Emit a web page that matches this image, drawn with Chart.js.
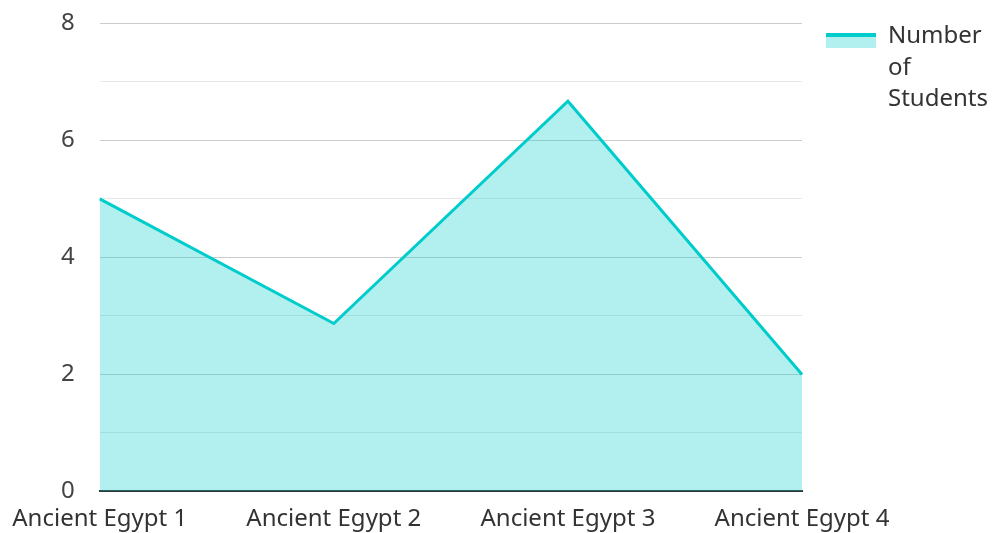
<!DOCTYPE html>
<html>
<head>
<meta charset="utf-8">
<script src="https://cdn.jsdelivr.net/npm/chart.js@4.4.1/dist/chart.umd.min.js"></script>
<style>
  html, body { margin: 0; padding: 0; background: #fff; }
  #wrap { width: 992px; height: 533px; position: relative; }
</style>
</head>
<body>
<div id="wrap"><canvas id="c"></canvas></div>
<script>
const categories = ['Ancient Egypt 1', 'Ancient Egypt 2', 'Ancient Egypt 3', 'Ancient Egypt 4'];
const studentCounts = [5, 2.87, 6.67, 2];
const seriesName = ['Number', 'of', 'Students'];
const yMin = 0, yMax = 8, yStep = 1;

const lineColor = '#00cccc';
const fillColor = 'rgba(0, 204, 204, 0.3)';
const FONT = '"Noto Sans", sans-serif';
const LEGEND_PAD = 24;

const legendMarker = {
  id: 'legendMarker',
  afterDraw(chart) {
    const lg = chart.legend;
    if (!lg) return;
    const ctx = chart.ctx;
    const x = lg.left + LEGEND_PAD;
    const y = lg.top + LEGEND_PAD + 9;
    ctx.save();
    ctx.fillStyle = fillColor;
    ctx.fillRect(x, y, 50, 15);
    ctx.fillStyle = lineColor;
    ctx.fillRect(x, y, 50, 4);
    ctx.restore();
  }
};

new Chart(document.getElementById('c'), {
  type: 'line',
  data: {
    labels: categories,
    datasets: [{
      label: seriesName.join(' '),
      data: studentCounts,
      borderColor: lineColor,
      backgroundColor: fillColor,
      borderWidth: 3,
      fill: 'origin',
      tension: 0,
      pointRadius: 0,
      pointHoverRadius: 0
    }]
  },
  options: {
    responsive: true,
    maintainAspectRatio: false,
    animation: false,
    layout: { padding: { top: 0, right: 0, bottom: 0, left: 52 } },
    font: { family: FONT, size: 24 },
    plugins: {
      tooltip: { enabled: false },
      legend: {
        position: 'right',
        align: 'start',
        maxWidth: 190,
        labels: {
          boxWidth: 50,
          boxHeight: 16,
          padding: LEGEND_PAD,
          color: '#333',
          font: { family: FONT, size: 24, lineHeight: 1.32 },
          generateLabels(chart) {
            return [{
              text: seriesName,
              fillStyle: 'rgba(0,0,0,0)',
              strokeStyle: 'rgba(0,0,0,0)',
              lineWidth: 0,
              hidden: false,
              datasetIndex: 0,
              fontColor: '#333'
            }];
          }
        }
      }
    },
    scales: {
      x: {
        offset: false,
        grid: { display: true, color: 'rgba(0,0,0,0)', drawTicks: true, tickLength: 14, tickColor: 'rgba(0,0,0,0)' },
        border: { display: true, color: '#333', width: 2 },
        ticks: {
          color: '#333',
          padding: 3,
          maxRotation: 0,
          autoSkip: false,
          font: { family: FONT, size: 24, lineHeight: 0.9 }
        }
      },
      y: {
        min: yMin,
        max: yMax,
        border: { display: false },
        grid: {
          drawTicks: true,
          tickLength: 16,
          tickColor: 'rgba(0,0,0,0)',
          lineWidth: 1,
          color: (c) => (c.tick && c.tick.value % 2 === 0) ? '#cccccc' : '#e8e8e8'
        },
        ticks: {
          stepSize: yStep,
          padding: 9,
          color: '#444',
          font: { family: FONT, size: 24 },
          callback: (v) => (v % 2 === 0 ? String(v) : '')
        }
      }
    }
  },
  plugins: [legendMarker]
});
</script>
</body>
</html>
